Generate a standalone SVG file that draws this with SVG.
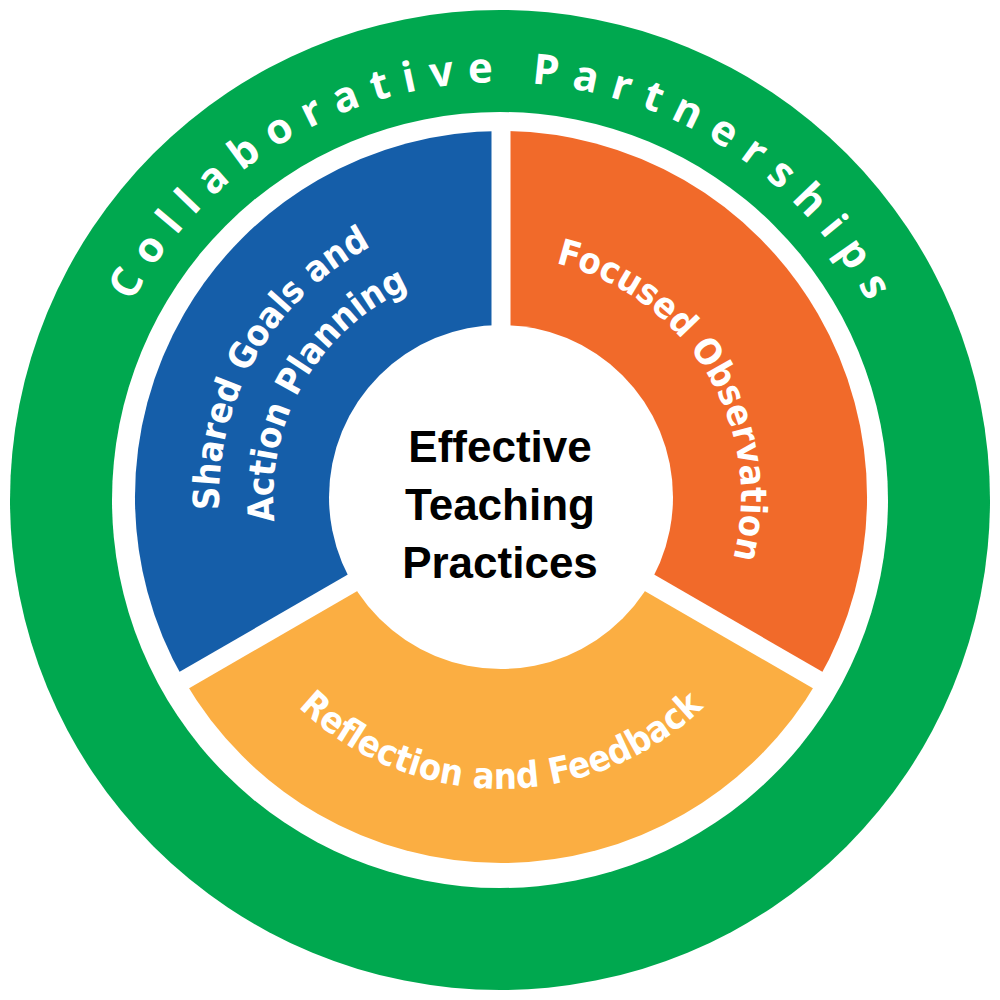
<svg xmlns="http://www.w3.org/2000/svg" width="1000" height="1000" viewBox="0 0 1000 1000">
<style>
.seg{font-family:"DejaVu Sans Condensed","DejaVu Sans",sans-serif;font-weight:bold;font-size:36px;fill:#fff}
.outer{font-family:"Open Sans","DejaVu Sans",sans-serif;font-weight:bold;font-size:42px;fill:#fff}
.ctr{font-family:"Liberation Sans",Arial,sans-serif;font-weight:bold;font-size:44px;fill:#000;text-anchor:middle}
</style>
<defs>
<path id="pg" d="M88.3,572.6 A418,418 0 1 1 911.7,572.6"/>
<path id="pb1" d="M404.6,762 A282,282 0 1 1 682.3,281"/>
<path id="pb2" d="M423,711.3 A228,228 0 1 1 647.6,322.3"/>
<path id="po" d="M343.6,315.9 A240,240 0 1 1 587,721.1"/>
<path id="py" d="M213.4,446.3 A292,292 0 1 0 788.6,446.3"/>
</defs>
<rect width="1000" height="1000" fill="#fff"/>
<g id="ring">
<circle cx="500" cy="500" r="490" fill="#00a84f"/>
<circle cx="500" cy="500" r="388" fill="#fff"/>
<text class="outer"><textPath href="#pg" startOffset="50%" text-anchor="middle" textLength="900" lengthAdjust="spacing">Collaborative Partnerships</textPath></text>
</g>
<g id="blue">
<path d="M501,497 L184,680 A366,366 0 0 1 501,131 Z" fill="#155ea9"/>
<text class="seg"><textPath href="#pb1" startOffset="50%" text-anchor="middle">Shared Goals and</textPath></text>
<text class="seg"><textPath href="#pb2" startOffset="50%" text-anchor="middle">Action Planning</textPath></text>
</g>
<g id="orange">
<path d="M501,497 L501,131 A366,366 0 0 1 818,680 Z" fill="#f16a2a"/>
<text class="seg"><textPath href="#po" startOffset="50%" text-anchor="middle">Focused Observation</textPath></text>
</g>
<g id="yellow">
<path d="M501,497 L818,680 A366,366 0 0 1 184,680 Z" fill="#fbae42"/>
<text class="seg"><textPath href="#py" startOffset="50%" text-anchor="middle">Reflection and Feedback</textPath></text>
</g>
<g id="connectors" stroke="#fff" stroke-width="19">
<line x1="501" y1="497" x2="501" y2="120"/>
<line x1="501" y1="497" x2="828" y2="686"/>
<line x1="501" y1="497" x2="174" y2="686"/>
</g>
<g id="center">
<circle cx="501" cy="497" r="172" fill="#fff"/>
<text class="ctr" x="500" y="462">Effective</text>
<text class="ctr" x="500" y="520">Teaching</text>
<text class="ctr" x="500" y="578">Practices</text>
</g>
</svg>
